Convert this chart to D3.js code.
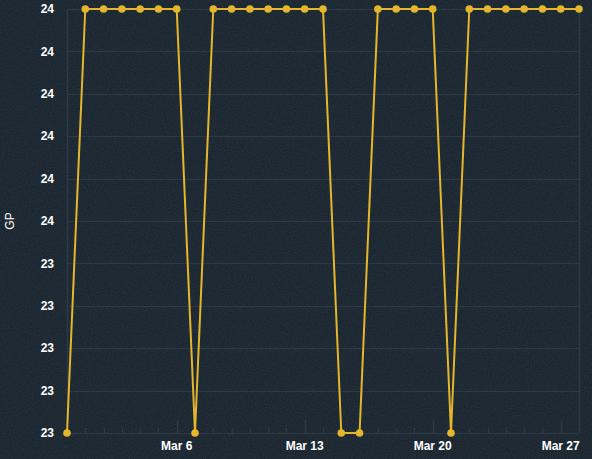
<!DOCTYPE html>
<html>
<head>
<meta charset="utf-8">
<script src="https://cdn.jsdelivr.net/npm/d3@7"></script>
<style>
  html, body { margin: 0; padding: 0; background: #19242c; }
  svg { display: block; }
</style>
</head>
<body>
<svg id="chart" width="592" height="459"></svg>
<script>
const dates = ["2022-02-28","2022-03-01","2022-03-02","2022-03-03","2022-03-04","2022-03-05","2022-03-06",
  "2022-03-07","2022-03-08","2022-03-09","2022-03-10","2022-03-11","2022-03-12","2022-03-13",
  "2022-03-14","2022-03-15","2022-03-16","2022-03-17","2022-03-18","2022-03-19","2022-03-20",
  "2022-03-21","2022-03-22","2022-03-23","2022-03-24","2022-03-25","2022-03-26","2022-03-27","2022-03-28"];
const gpValues = [23,24,24,24,24,24,24,
  23,24,24,24,24,24,24,
  24,23,23,24,24,24,24,
  23,24,24,24,24,24,24,24];
const xTickLabels = ["2022-03-06","2022-03-13","2022-03-20","2022-03-27"];
const yTicks = [23,23.1,23.2,23.3,23.4,23.5,23.6,23.7,23.8,23.9,24];
const yTitle = "GP";

const W = 592, H = 459;
const m = {left: 67, right: 13, top: 9, bottom: 26};
const svg = d3.select("#chart");
const parse = d3.utcParse("%Y-%m-%d");
const data = dates.map((d, i) => ({date: parse(d), v: gpValues[i]}));

// background with subtle noise
const defs = svg.append("defs");
const f = defs.append("filter").attr("id", "noise").attr("x", 0).attr("y", 0).attr("width", "100%").attr("height", "100%");
f.append("feTurbulence").attr("type", "fractalNoise").attr("baseFrequency", 0.95).attr("numOctaves", 2).attr("seed", 3).attr("result", "t");
f.append("feColorMatrix").attr("type", "matrix")
  .attr("values", "0 0 0 0 0.06  0 0 0 0 0.09  0 0 0 0 0.11  0 0 0 0.9 -0.3");
svg.append("rect").attr("width", W).attr("height", H).attr("fill", "#1b2630");
svg.append("rect").attr("width", W).attr("height", H).attr("filter", "url(#noise)").attr("opacity", 0.6);

const x = d3.scaleUtc()
  .domain(d3.extent(data, d => d.date))
  .range([m.left, W - m.right]);
const y = d3.scaleLinear()
  .domain([d3.min(yTicks), d3.max(yTicks)])
  .range([H - m.bottom, m.top]);

const gridColor = "#2c3a45";
const fontFam = "'Liberation Sans', Arial, sans-serif";

// horizontal grid lines
svg.append("g").selectAll("line").data(yTicks).join("line")
  .attr("x1", m.left).attr("x2", W - m.right)
  .attr("y1", d => Math.round(y(d)) + 0.5).attr("y2", d => Math.round(y(d)) + 0.5)
  .attr("stroke", gridColor).attr("stroke-width", 1);

// left & right borders
[m.left, W - m.right].forEach(px => {
  svg.append("line").attr("x1", px + 0.5).attr("x2", px + 0.5)
    .attr("y1", m.top).attr("y2", H - m.bottom)
    .attr("stroke", gridColor).attr("stroke-width", 1.5);
});

// x axis ticks: minor daily, major weekly
const bottomY = H - m.bottom;
svg.append("g").selectAll("line").data(data.map(d => d.date)).join("line")
  .attr("x1", d => Math.round(x(d)) + 0.5).attr("x2", d => Math.round(x(d)) + 0.5)
  .attr("y1", bottomY).attr("y2", bottomY - 5)
  .attr("stroke", gridColor).attr("stroke-width", 1);
const majors = xTickLabels.map(parse);
svg.append("g").selectAll("line").data(majors).join("line")
  .attr("x1", d => Math.round(x(d)) + 0.5).attr("x2", d => Math.round(x(d)) + 0.5)
  .attr("y1", bottomY).attr("y2", bottomY - 13)
  .attr("stroke", gridColor).attr("stroke-width", 1.5);

// x labels
const fmtX = d3.utcFormat("%b %-d");
svg.append("g").selectAll("text").data(majors).join("text")
  .attr("x", d => x(d)).attr("y", H - 9)
  .attr("text-anchor", "middle")
  .attr("fill", "#ffffff").attr("font-family", fontFam).attr("font-size", 12).attr("font-weight", "bold")
  .text(d => fmtX(d));

// y labels
const fmtY = d3.format(".0f");
svg.append("g").selectAll("text").data(yTicks).join("text")
  .attr("x", 54).attr("y", d => y(d)).attr("dy", "0.35em")
  .attr("text-anchor", "end")
  .attr("fill", "#ffffff").attr("font-family", fontFam).attr("font-size", 12).attr("font-weight", "bold")
  .text(d => fmtY(d));

// y title
svg.append("text")
  .attr("transform", `translate(10,${(m.top + H - m.bottom) / 2}) rotate(-90)`)
  .attr("dy", "0.35em")
  .attr("text-anchor", "middle")
  .attr("fill", "#ffffff").attr("font-family", fontFam).attr("font-size", 12)
  .text(yTitle);

// line
const lineColor = "#e3b62b";
const line = d3.line().x(d => x(d.date)).y(d => y(d.v));
svg.append("path").datum(data)
  .attr("d", line).attr("fill", "none")
  .attr("stroke", lineColor).attr("stroke-width", 2);

// points
svg.append("g").selectAll("circle").data(data).join("circle")
  .attr("cx", d => x(d.date)).attr("cy", d => y(d.v)).attr("r", 3.8)
  .attr("fill", lineColor);
</script>
</body>
</html>
